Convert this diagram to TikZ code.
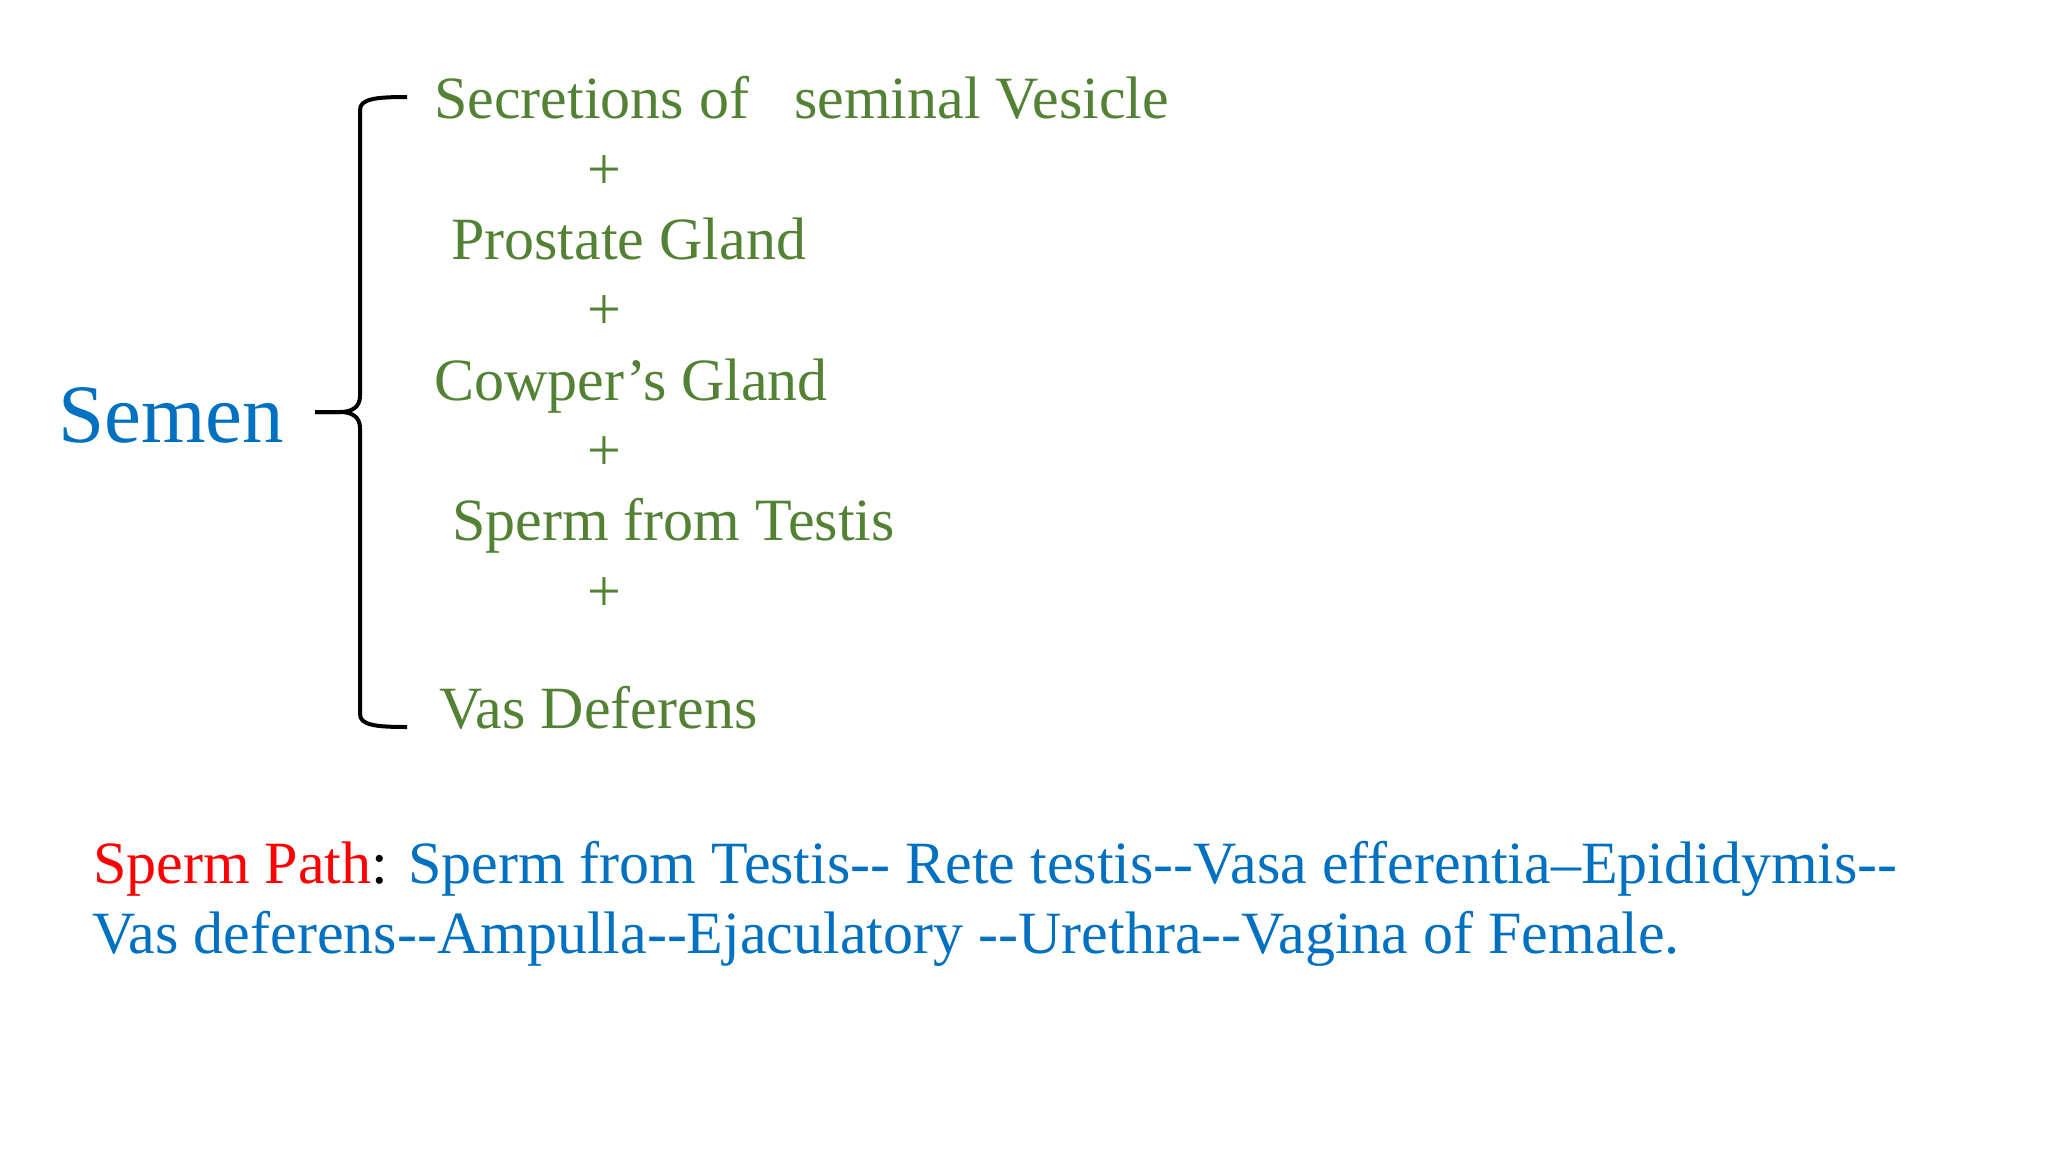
\documentclass[tikz,border=0pt]{standalone}
\usepackage{fontspec}
\setmainfont{Liberation Serif}
\definecolor{leafgreen}{HTML}{548235}
\definecolor{pathblue}{HTML}{0070C0}
\definecolor{pathred}{HTML}{FF0000}
\newcommand{\hh}{-\kern0pt-}
\begin{document}
\begin{tikzpicture}[x=1pt,y=-1pt,
  greentext/.style={anchor=base west,inner sep=0pt,text=leafgreen,font=\fontsize{60}{72}\selectfont},
  plussign/.style={anchor=center,inner sep=0pt,text=leafgreen,font=\fontsize{60}{72}\selectfont},
  pathtext/.style={anchor=base west,inner sep=0pt,text=pathblue,font=\fontsize{60}{72}\selectfont},
  bracestroke/.style={line width=4pt,black}]
\fill[white] (0,0) rectangle (2048,1151);
\useasboundingbox (0,0) rectangle (2048,1151);

\node[anchor=base west,inner sep=0pt,text=pathblue,font=\fontsize{83}{96}\selectfont] (semen) at (58,442) {Semen};

\coordinate (btop) at (407,97);
\coordinate (btip) at (315,412);
\coordinate (bbot) at (407,727);
\draw[bracestroke] (btop) .. controls (375,97) and (360,99) .. (360,110) -- (360,396)
  .. controls (360,407) and (352,412) .. (340,412) -- (btip);
\draw[bracestroke] (btip) -- (340,412) .. controls (352,412) and (360,417) .. (360,428)
  -- (360,714) .. controls (360,725) and (375,727) .. (bbot);

\node[greentext] (sec) at (434,118) {Secretions of\ \ \ seminal Vesicle};
\node[plussign] (p1) at (604,173) {+};
\node[greentext] (pro) at (451,259) {Prostate Gland};
\node[plussign] (p2) at (604,313) {+};
\node[greentext] (cow) at (434,400) {Cowper’s Gland};
\node[plussign] (p3) at (604,454) {+};
\node[greentext] (spe) at (452,540) {Sperm from Testis};
\node[plussign] (p4) at (604,595) {+};
\node[greentext] (vas) at (439,728) {Vas Deferens};

\node[pathtext] (line1) at (93,883) {\textcolor{pathred}{Sperm Path}\textcolor{black}{:} Sperm from Testis\hh{} Rete testis\hh Vasa efferentia–Epididymis\hh};
\node[pathtext] (line2) at (92,953) {Vas deferens\hh Ampulla\hh Ejaculatory \hh Urethra\hh Vagina of Female.};
\end{tikzpicture}
\end{document}
